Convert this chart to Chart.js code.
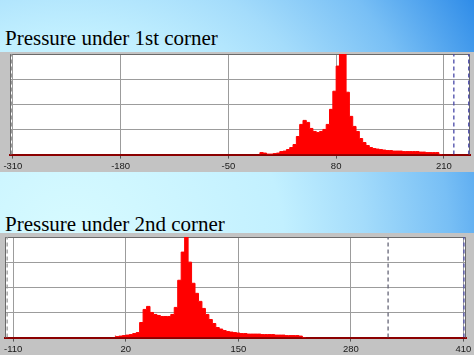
<!DOCTYPE html>
<html><head><meta charset="utf-8">
<script src="https://cdn.jsdelivr.net/npm/chart.js@4.4.1/dist/chart.umd.min.js"></script>
<style>
html,body{margin:0;padding:0;width:474px;height:355px;overflow:hidden;}
body{position:relative;background:radial-gradient(circle farthest-corner at 15% 70%, #d8fbff 0%, #c2f0ff 45%, #a4dcfb 62%, #78bff5 80%, #2f8ce8 100%);}
.title{position:absolute;left:5px;font-family:"Liberation Serif","Times New Roman",serif;font-size:21px;line-height:21px;color:#000;white-space:nowrap;}
.frame{position:absolute;left:0;width:474px;background:#c3c3c3;}
canvas{position:absolute;left:0;}
</style></head>
<body>
<div class="title" style="top:28px">Pressure under 1st corner</div>
<div class="frame" style="top:52px;height:120px"></div>
<canvas id="c1" width="474" height="122" style="top:52px;width:474px;height:122px"></canvas>
<div class="title" style="top:214px">Pressure under 2nd corner</div>
<div class="frame" style="top:233px;height:122px"></div>
<canvas id="c2" width="474" height="124" style="top:233px;width:474px;height:124px"></canvas>
<script>
// ---- Panel 1: Pressure under 1st corner ----
const bins1 = [-12,-8,-4,0,4,8,12,16,20,24,28,32,36,40,44,48,52,56,60,64,68,72,76,80,84,88,92,96,100,104,108,112,116,120,124,128,132,136,140,144,148,152,156,160,164,168,172,176,180,184,188,192,196,200,204,208];
const counts1 = [0,2,1.5,0.5,0.5,1,1.5,3,3.5,5,7,10,18,30,34,32,26,23,22,23,25,30,45,63,88,100,100,62,38,28,23,16,12,9,7,6,5.5,5,4.5,4,4,3.5,3.5,3.5,3,3,3,3,3,2.5,2.5,2,2,2,2,0];
const ticks1 = [-310,-180,-50,80,210];
const markers1 = [-311.5,222,240];
// ---- Panel 2: Pressure under 2nd corner ----
const bins2 = [8,12,16,20,24,28,32,36,40,44,48,52,56,60,64,68,72,76,80,84,88,92,96,100,104,108,112,116,120,124,128,132,136,140,144,148,152,156,160,164,168,172,176,180,184,188,192,196,200,204,208,212,216,220,224,228];
const counts2 = [2,1,1.5,2,2.5,3,4,5,15,28,31,25,23,22,21,21,21,23,30,57,85,100,75,54,44,36,29,23,18,14,10,8.5,7,6,5.5,5,4.5,4,4,3.5,3.5,3.5,3.5,3,3,3,3,2.5,2.5,2.5,2,2,2,2,1.5,0];
const ticks2 = [-110,20,150,280,410];
const markers2 = [-117,323,410.6];
const yGrid = [0,25,50,75,100];

const markerColors1 = ['#9a9a9a','#4848a8','#4848a8'];
const markerColors2 = ['#9a9a9a','#666677','#5050a8'];

const framePlugin = {
  id:'frameBorder',
  beforeDraw(chart){
    const a = chart.chartArea, ctx = chart.ctx;
    ctx.save();
    ctx.fillStyle = '#ffffff';
    ctx.fillRect(a.left, a.top, a.right-a.left, a.bottom-a.top);
    ctx.restore();
  },
  beforeDatasetsDraw(chart){
    const a = chart.chartArea, ctx = chart.ctx;
    ctx.save();
    ctx.strokeStyle = '#6a6a6a';
    ctx.lineWidth = 1;
    ctx.beginPath();
    ctx.moveTo(a.left+0.5, a.bottom);
    ctx.lineTo(a.left+0.5, a.top+0.5);
    ctx.lineTo(a.right-0.5, a.top+0.5);
    ctx.lineTo(a.right-0.5, a.bottom);
    ctx.stroke();
    ctx.restore();
  }
};

function makeChart(id, bins, counts, ticks, markers, mColors, xmin, xmax, pad){
  const ds = [{
    data: bins.map((b,i)=>({x:b, y:counts[i]})),
    stepped: 'after', fill: 'origin',
    backgroundColor: '#ff0000', borderColor: '#ff0000', borderWidth: 1,
    pointRadius: 0, order: 1
  }];
  markers.forEach((m,i)=>ds.push({
    data: [{x:m,y:0},{x:m,y:100}],
    borderColor: mColors[i], borderWidth: 1.3, borderDash: [4,3],
    pointRadius: 0, fill: false, order: 0
  }));
  return new Chart(document.getElementById(id), {
    type: 'line',
    data: {datasets: ds},
    plugins: [framePlugin],
    options: {
      responsive: false, animation: false, devicePixelRatio: 1,
      layout: {padding: pad},
      plugins: {legend:{display:false}, tooltip:{enabled:false}},
      scales: {
        x: {
          type: 'linear', min: xmin, max: xmax,
          afterBuildTicks: ax => { ax.ticks = ticks.map(v=>({value:v})); },
          ticks: {font:{family:'"Liberation Sans", Arial, sans-serif', size:9.5}, color:'#1a1a1a', padding:2, maxRotation:0, autoSkip:false},
          grid: {color:'#9c9c9c', lineWidth:1, tickLength:4, drawTicks:true, tickColor:'#555'},
          border: {display:true, color:'#8b0000', width:2}
        },
        y: {
          min: 0, max: 100,
          afterBuildTicks: ax => { ax.ticks = yGrid.map(v=>({value:v})); },
          ticks: {display:false},
          grid: {color:'#9c9c9c', lineWidth:1, drawTicks:false},
          border: {display:false}
        }
      }
    }
  });
}

makeChart('c1', bins1, counts1, ticks1, markers1, markerColors1, -313.5, 241.5, {left:10, right:4, top:2, bottom:0});
makeChart('c2', bins2, counts2, ticks2, markers2, markerColors2, -119.5, 413, {left:5, right:8, top:4, bottom:0});
</script>
</body></html>
